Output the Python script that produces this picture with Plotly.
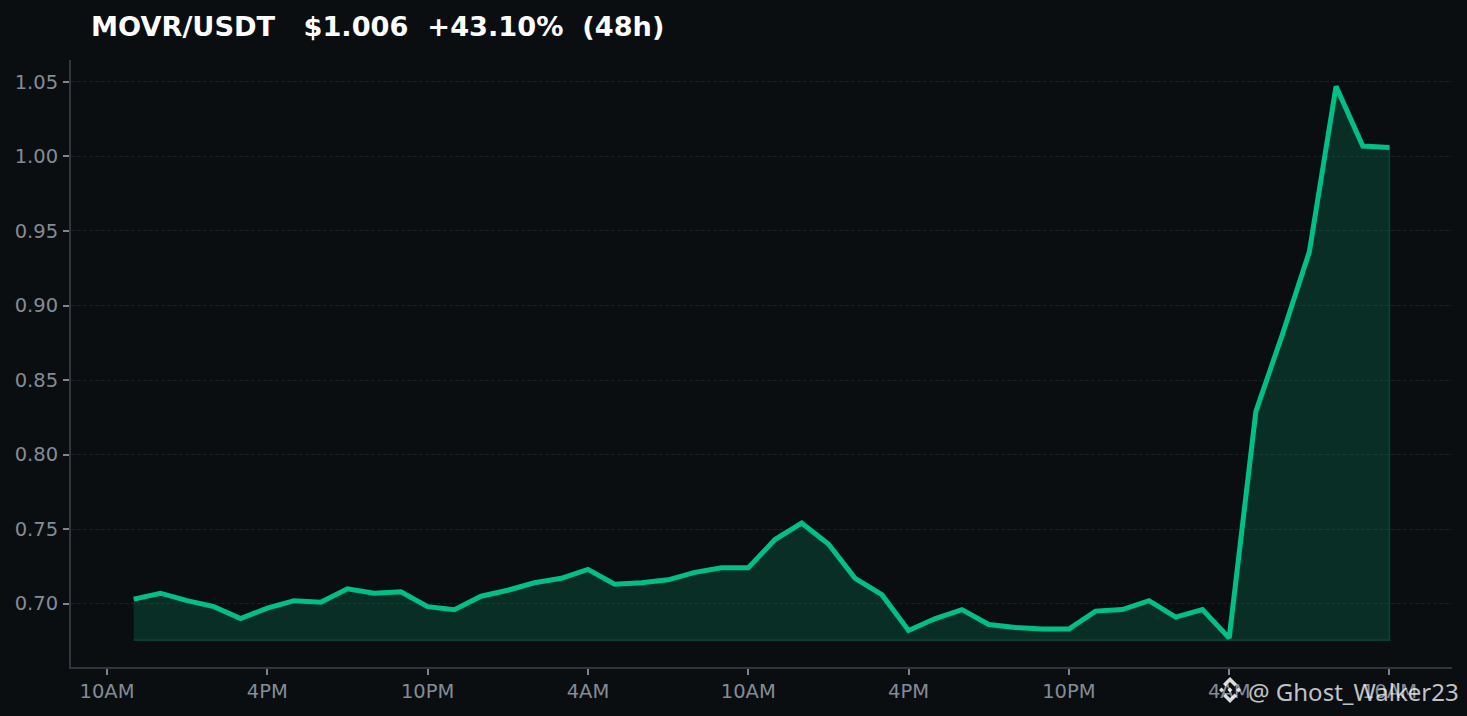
import plotly.graph_objects as go

# Hourly closes, hour 0 = the first 10AM tick
hours = list(range(1, 49))
prices = [
    0.703, 0.707, 0.702, 0.698, 0.690, 0.697, 0.702, 0.701, 0.710, 0.707, 0.708, 0.698,
    0.696, 0.705, 0.709, 0.714, 0.717, 0.723, 0.713, 0.714, 0.716, 0.721, 0.724, 0.724,
    0.743, 0.754, 0.740, 0.717, 0.706, 0.682, 0.690, 0.696, 0.686, 0.684, 0.683, 0.683,
    0.695, 0.696, 0.702, 0.691, 0.696, 0.677, 0.829, 0.881, 0.936, 1.047, 1.007, 1.006,
]
baseline = 0.6755

x_tick_vals = [0, 6, 12, 18, 24, 30, 36, 42, 48]
x_tick_text = ["10AM", "4PM", "10PM", "4AM", "10AM", "4PM", "10PM", "4AM", "10AM"]
y_tick_vals = [0.70, 0.75, 0.80, 0.85, 0.90, 0.95, 1.00, 1.05]

W, H = 1467, 716
LEFT, RIGHT, TOP, BOTTOM = 71, 15, 60, 49
BG = "#0a0e11"
GREEN = "#00c087"
FONT = "DejaVu Sans"


# paper coordinates are relative to the plot area, so go through it
def px(x):
    return (x - LEFT) / (W - LEFT - RIGHT)


def py(y):
    return (H - BOTTOM - y) / (H - BOTTOM - TOP)


def poly(points):
    return "M" + " L".join(f"{px(a):.5f},{py(b):.5f}" for a, b in points) + " Z"


fig = go.Figure()

# filled area closed down to the baseline
fig.add_trace(go.Scatter(
    x=hours + hours[::-1],
    y=[baseline] * len(hours) + prices[::-1],
    mode="lines",
    fill="toself",
    fillcolor="rgba(0,192,135,0.18)",
    line=dict(color="rgba(0,192,135,0.25)", width=1.5),
    hoverinfo="skip",
))
fig.add_trace(go.Scatter(
    x=hours,
    y=prices,
    mode="lines",
    line=dict(color=GREEN, width=5),
))

# binance style logo in the watermark
cx, cy = 1230, 690
logo = [
    [(cx - 2.5, cy), (cx, cy - 2.5), (cx + 2.5, cy), (cx, cy + 2.5)],
    [(cx - 11, cy), (cx - 8.5, cy - 2.5), (cx - 6, cy), (cx - 8.5, cy + 2.5)],
    [(cx + 11, cy), (cx + 8.5, cy - 2.5), (cx + 6, cy), (cx + 8.5, cy + 2.5)],
    [(cx, cy - 13), (cx + 7, cy - 6), (cx + 4.5, cy - 3.5), (cx, cy - 8), (cx - 4.5, cy - 3.5), (cx - 7, cy - 6)],
    [(cx, cy + 13), (cx + 7, cy + 6), (cx + 4.5, cy + 3.5), (cx, cy + 8), (cx - 4.5, cy + 3.5), (cx - 7, cy + 6)],
]
shapes = [
    dict(type="path", xref="paper", yref="paper", path=poly(p),
         fillcolor="rgba(255,255,255,0.85)", line=dict(width=0), layer="above")
    for p in logo
]

fig.update_layout(
    width=W,
    height=H,
    showlegend=False,
    paper_bgcolor=BG,
    plot_bgcolor=BG,
    margin=dict(l=LEFT, r=RIGHT, t=TOP, b=BOTTOM),
    font=dict(family=FONT, size=19.5, color="#848b95"),
    shapes=shapes,
    annotations=[
        dict(text="<b>MOVR/USDT   $1.006  +43.10%  (48h)</b>", xref="paper", yref="paper",
             x=px(89), y=py(26), xanchor="left", yanchor="middle", showarrow=False,
             font=dict(family=FONT, size=27.2, color="#ffffff")),
        dict(text="@ Ghost_Walker23", xref="paper", yref="paper",
             x=px(1461), y=py(691), xanchor="right", yanchor="middle", showarrow=False,
             font=dict(family="Noto Sans", size=24, color="rgba(255,255,255,0.75)")),
    ],
)
fig.update_xaxes(
    range=[-1.347, 50.34],
    tickvals=x_tick_vals,
    ticktext=x_tick_text,
    ticks="outside",
    ticklen=6,
    tickwidth=1.5,
    tickcolor="#7d8590",
    showgrid=False,
    zeroline=False,
    showline=True,
    linecolor="#30363d",
    linewidth=2,
)
fig.update_yaxes(
    range=[0.6575, 1.0647],
    tickvals=y_tick_vals,
    tickformat=".2f",
    ticks="outside",
    ticklen=6,
    tickwidth=1.5,
    tickcolor="#7d8590",
    ticklabelstandoff=1,
    showgrid=True,
    gridcolor="#1a2026",
    griddash="4px,2px",
    gridwidth=1,
    zeroline=False,
    showline=True,
    linecolor="#30363d",
    linewidth=2,
)

fig.write_html(
    "out.html",
    config=dict(displayModeBar=False),
    post_script="document.body.style.margin='0';document.body.style.overflow='hidden';",
)
